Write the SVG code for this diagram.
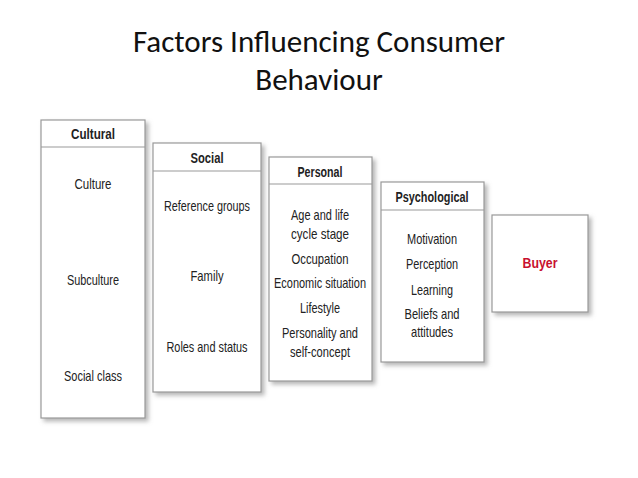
<svg xmlns="http://www.w3.org/2000/svg" width="638" height="478" viewBox="0 0 638 478">
<defs><filter id="sh" x="-10%" y="-10%" width="130%" height="130%"><feDropShadow dx="3" dy="3" stdDeviation="2" flood-color="#888" flood-opacity="0.6"/></filter></defs>
<style>
.b{fill:#fff;stroke:#999;stroke-width:1.2;filter:url(#sh)}
.d{stroke:#999;stroke-width:1.2}
text{font-family:"Liberation Sans",Arial,sans-serif;text-anchor:middle;fill:#222}
.h{font-size:14.5px;font-weight:bold}
.t{font-size:14.5px}
.title{font-family:Calibri,"Carlito","Liberation Sans",sans-serif;font-size:31px;fill:#111}
</style>
<rect width="638" height="478" fill="#fff"/>
<text class="title" x="319" y="52">Factors Influencing Consumer</text>
<text class="title" x="319" y="90">Behaviour</text>
<g id="cultural"><rect class="b" x="41" y="120" width="104" height="298"/><line class="d" x1="41" y1="147" x2="145" y2="147"/>
<text class="h" x="93" y="139" textLength="44" lengthAdjust="spacingAndGlyphs">Cultural</text><text class="t" x="93" y="189" textLength="37" lengthAdjust="spacingAndGlyphs">Culture</text><text class="t" x="93" y="285" textLength="52" lengthAdjust="spacingAndGlyphs">Subculture</text><text class="t" x="93" y="381" textLength="58" lengthAdjust="spacingAndGlyphs">Social class</text></g>
<g id="social"><rect class="b" x="153" y="143" width="108" height="249"/><line class="d" x1="153" y1="171" x2="261" y2="171"/>
<text class="h" x="207" y="163" textLength="33" lengthAdjust="spacingAndGlyphs">Social</text><text class="t" x="207" y="211" textLength="86" lengthAdjust="spacingAndGlyphs">Reference groups</text><text class="t" x="207" y="281" textLength="33" lengthAdjust="spacingAndGlyphs">Family</text><text class="t" x="207" y="352" textLength="81" lengthAdjust="spacingAndGlyphs">Roles and status</text></g>
<g id="personal"><rect class="b" x="269" y="157" width="103" height="224"/><line class="d" x1="269" y1="184" x2="372" y2="184"/>
<text class="h" x="320" y="177" textLength="45" lengthAdjust="spacingAndGlyphs">Personal</text>
<text class="t" x="320" y="220" textLength="58" lengthAdjust="spacingAndGlyphs">Age and life</text><text class="t" x="320" y="239" textLength="58" lengthAdjust="spacingAndGlyphs">cycle stage</text><text class="t" x="320" y="264" textLength="57" lengthAdjust="spacingAndGlyphs">Occupation</text><text class="t" x="320" y="288" textLength="92" lengthAdjust="spacingAndGlyphs">Economic situation</text><text class="t" x="320" y="313" textLength="40" lengthAdjust="spacingAndGlyphs">Lifestyle</text><text class="t" x="320" y="338" textLength="76" lengthAdjust="spacingAndGlyphs">Personality and</text><text class="t" x="320" y="357" textLength="60" lengthAdjust="spacingAndGlyphs">self-concept</text></g>
<g id="psychological"><rect class="b" x="381" y="182" width="103" height="180"/><line class="d" x1="381" y1="210" x2="484" y2="210"/>
<text class="h" x="432" y="202" textLength="73" lengthAdjust="spacingAndGlyphs">Psychological</text><text class="t" x="432" y="244" textLength="50" lengthAdjust="spacingAndGlyphs">Motivation</text><text class="t" x="432" y="269" textLength="52" lengthAdjust="spacingAndGlyphs">Perception</text><text class="t" x="432" y="295" textLength="42" lengthAdjust="spacingAndGlyphs">Learning</text><text class="t" x="432" y="319" textLength="55" lengthAdjust="spacingAndGlyphs">Beliefs and</text><text class="t" x="432" y="337" textLength="42" lengthAdjust="spacingAndGlyphs">attitudes</text></g>
<g id="buyer"><rect class="b" x="492" y="215" width="96" height="97"/><text class="h" x="540" y="268" textLength="35" lengthAdjust="spacingAndGlyphs" style="fill:#c8102e">Buyer</text></g>
<g id="connectors"/>
</svg>
